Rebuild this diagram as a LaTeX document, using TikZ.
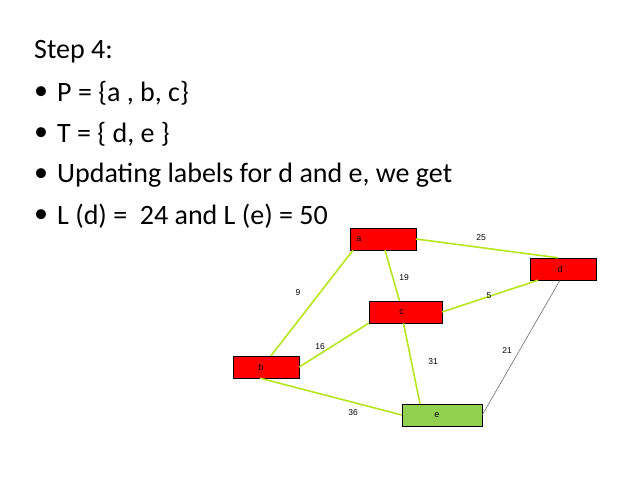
\documentclass[tikz,border=0pt]{standalone}
\usepackage{fontspec}
\setmainfont{Carlito}
\newfontfamily\lab{Liberation Sans}
\begin{document}
\begin{tikzpicture}[x=1pt,y=-1pt,
  box/.style={draw=black,fill=red,minimum width=66pt,minimum height=22pt,inner sep=0pt,font=\lab\fontsize{9}{10}\selectfont},
  wl/.style={font=\lab\fontsize{8.5}{10}\selectfont},
  txt/.style={anchor=west,font=\fontsize{28}{32}\selectfont,inner sep=0pt}]
\definecolor{eg}{HTML}{92D050}
\definecolor{lime}{HTML}{B5E61D}
\useasboundingbox (0,0) rectangle (638,478);
\node[txt] (t0) at (34,52) {Step 4:};
\foreach \y/\s [count=\i] in {93/{P = \{a , b, c\}},134/{T = \{ d, e \}},175/{Updating labels for d and e, we get},216/{L (d) =\ \ 24 and L (e) = 50}}{
  \node[txt] (bu\i) at (34,\y) {•};
  \node[txt] (tx\i) at (57,\y) {\s};
}
\node[box,minimum width=66pt] (a) at (383,239) {\hspace*{-48pt}a};
\node[box] (d) at (563,269) {\hspace*{-6pt}d};
\node[box,minimum width=73pt] (c) at (405.5,312) {\hspace*{-8pt}c};
\node[box] (b) at (266,367) {\hspace*{-10pt}b};
\node[box,fill=eg,minimum width=80pt] (e) at (442,415) {\hspace*{-10pt}e};
\begin{scope}[line width=1.6pt,lime]
\draw (a.east) -- ([xshift=-5pt]d.north);
\draw ([xshift=2pt]a.south) -- ([xshift=-6pt]c.north);
\draw ([xshift=-30pt]a.south) -- ([xshift=5pt]b.north);
\draw (c.east) -- ([xshift=-25pt]d.south);
\draw (c.south west) -- (b.east);
\draw ([xshift=-2pt]c.south) -- ([xshift=-22pt]e.north);
\draw ([xshift=-6pt]b.south) -- (e.west);
\end{scope}
\draw[gray!70!black,line width=0.5pt] ([xshift=-3pt]d.south) -- (e.east);
\node[wl] (w25) at (481,238) {25};
\node[wl] (w19) at (404,278) {19};
\node[wl] (w9) at (298,293) {9};
\node[wl] (w5) at (489,296) {5};
\node[wl] (w16) at (320,347) {16};
\node[wl] (w31) at (433,362) {31};
\node[wl] (w21) at (507,351) {21};
\node[wl] (w36) at (353,413) {36};
\end{tikzpicture}
\end{document}
